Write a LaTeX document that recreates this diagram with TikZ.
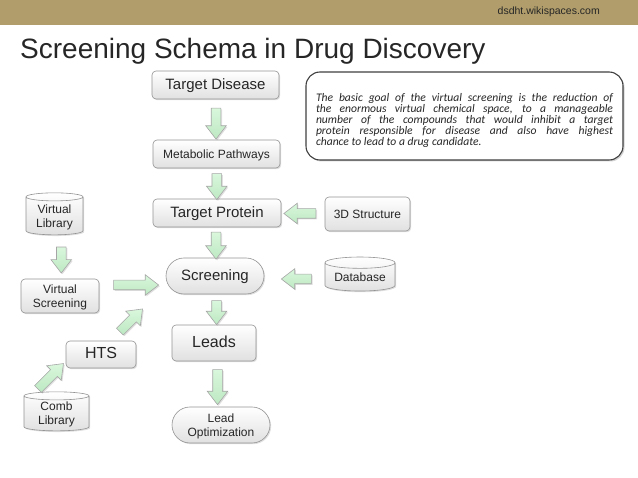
\documentclass[tikz,border=0pt]{standalone}
\usepackage{fontspec}
\setmainfont{Liberation Sans}
\newfontfamily\carlito{Carlito}
\usetikzlibrary{shapes.arrows,shapes.geometric,shapes.misc,shadows,calc}
\definecolor{banner}{HTML}{B09D6B}
\definecolor{txt}{HTML}{262626}
\definecolor{arrgreen}{HTML}{D9F7DC}
\definecolor{arrgreendk}{HTML}{BDE8C2}
\tikzset{
  fs/.style={font=\fontsize{#1}{14}\selectfont},
  oneline/.style={text height=1.05em,text depth=0.15em},
  twoline/.style={text depth=0pt},
  softshadow/.style={drop shadow={shadow xshift=1.2pt,shadow yshift=-1.2pt,opacity=0.25}},
  boxfill/.style={top color=white,bottom color=gray!24,draw=gray!85,line width=0.6pt,text=txt,softshadow},
  stepbox/.style={boxfill,rectangle,rounded corners=4pt,inner sep=0pt,align=center},
  stadium/.style={boxfill,rounded rectangle,inner sep=0pt,align=center},
  dbase/.style={boxfill,cylinder,shape border rotate=90,aspect=0.22,inner sep=0pt,align=center},
  barrow/.style={single arrow,draw=gray!70,line width=0.6pt,top color=arrgreen,bottom color=arrgreendk,
    inner xsep=0pt,inner ysep=4.5pt,single arrow head extend=5.5pt,single arrow tip angle=75,softshadow},
}
\begin{document}
\begin{tikzpicture}[x=1pt,y=-1pt]
\useasboundingbox (0,0) rectangle (638,478);
\fill[banner] (0,0) rectangle (638,25);
\node[fs=10.5,text=txt,anchor=east,inner sep=0pt] (site) at (600,12) {dsdht.wikispaces.com};
\node[fs=28,text=txt,anchor=base west,inner sep=0pt] (title) at (20,58.5) {Screening Schema in Drug Discovery};

% description box
\node[draw=black!75,line width=1.1pt,rounded corners=14pt,fill=white,
  drop shadow={shadow xshift=1.5pt,shadow yshift=-1.5pt,opacity=0.35},
  minimum width=317pt,minimum height=88pt,inner sep=0pt] (desc) at (464.5,116) {};
\node[text width=297pt,align=justify,inner sep=0pt,text=txt,
  font=\carlito\itshape\fontsize{11.6}{11}\selectfont] (desctext) at (464.5,120.5)
{The basic goal of the virtual screening is the reduction of\linebreak
the enormous virtual chemical space, to a manageable\linebreak
number of the compounds that would inhibit a target\linebreak
protein responsible for disease and also have highest\linebreak
chance to lead to a drug candidate.};

% main column
\node[stepbox,oneline,fs=15,minimum width=127pt,minimum height=28pt] (td) at (215.5,85) {Target Disease};
\node[stepbox,oneline,fs=12,minimum width=127pt,minimum height=28pt] (mp) at (216.5,154) {Metabolic Pathways};
\node[stepbox,oneline,fs=15,minimum width=128pt,minimum height=28pt] (tp) at (217,213) {Target Protein};
\node[stepbox,oneline,fs=12,minimum width=85pt,minimum height=34pt] (ds) at (367.5,214) {3D Structure};
\node[stadium,oneline,fs=15,minimum width=98pt,minimum height=36pt] (scr) at (215,276) {Screening};
\node[dbase,oneline,fs=12,minimum width=70pt,minimum height=34pt] (db) at (360,277) {Database};
\node[stepbox,oneline,fs=16,minimum width=84pt,minimum height=36pt] (leads) at (214,343) {Leads};
\node[stadium,twoline,fs=12,minimum width=98pt,minimum height=36pt] (lo) at (221,425) {Lead\\Optimization};

% left column
\node[dbase,twoline,fs=12,minimum width=57pt,minimum height=42pt] (vl) at (54.5,216) {Virtual\\Library};
\node[stepbox,twoline,fs=12,minimum width=78pt,minimum height=34pt] (vs) at (60,296) {Virtual\\Screening};
\node[stepbox,oneline,fs=16,minimum width=70pt,minimum height=27pt] (hts) at (101,354.5) {HTS};
\node[dbase,twoline,fs=12,minimum width=65pt,minimum height=39pt] (cl) at (56.5,413.5) {Comb\\Library};

% block arrows
\node[barrow,rotate=-90,minimum height=31pt] (a1) at ($(td.south)!0.5!(mp.north)+(0,1)$) {};
\node[barrow,rotate=-90,minimum height=26pt] (a2) at ($(mp.south)!0.5!(tp.north)+(0,0)$) {};
\node[barrow,rotate=-90,minimum height=27pt] (a3) at ($(tp.south)!0.5!(scr.north)+(0,0)$) {};
\node[barrow,rotate=-90,minimum height=24pt] (a4) at ($(scr.south)!0.5!(leads.north)+(2,0)$) {};
\node[barrow,rotate=-90,minimum height=35pt] (a5) at ($(leads.south)!0.5!(lo.north)+(0,0)$) {};
\node[barrow,rotate=180,minimum height=32pt] (a6) at ($(ds.west)!0.5!(tp.east)$) {};
\node[barrow,rotate=180,minimum height=30pt] (a7) at (299.5,279) {};
\node[barrow,rotate=-90,minimum height=26pt] (a8) at ($(vl.south)!0.5!(vs.north)+(4,0)$) {};
\node[barrow,minimum height=45pt] (a9) at (133,285) {};
\node[barrow,rotate=45,minimum height=32pt] (a10) at (129,322.5) {};
\node[barrow,rotate=45,minimum height=36pt] (a11) at (48.5,378.5) {};
\end{tikzpicture}
\end{document}
